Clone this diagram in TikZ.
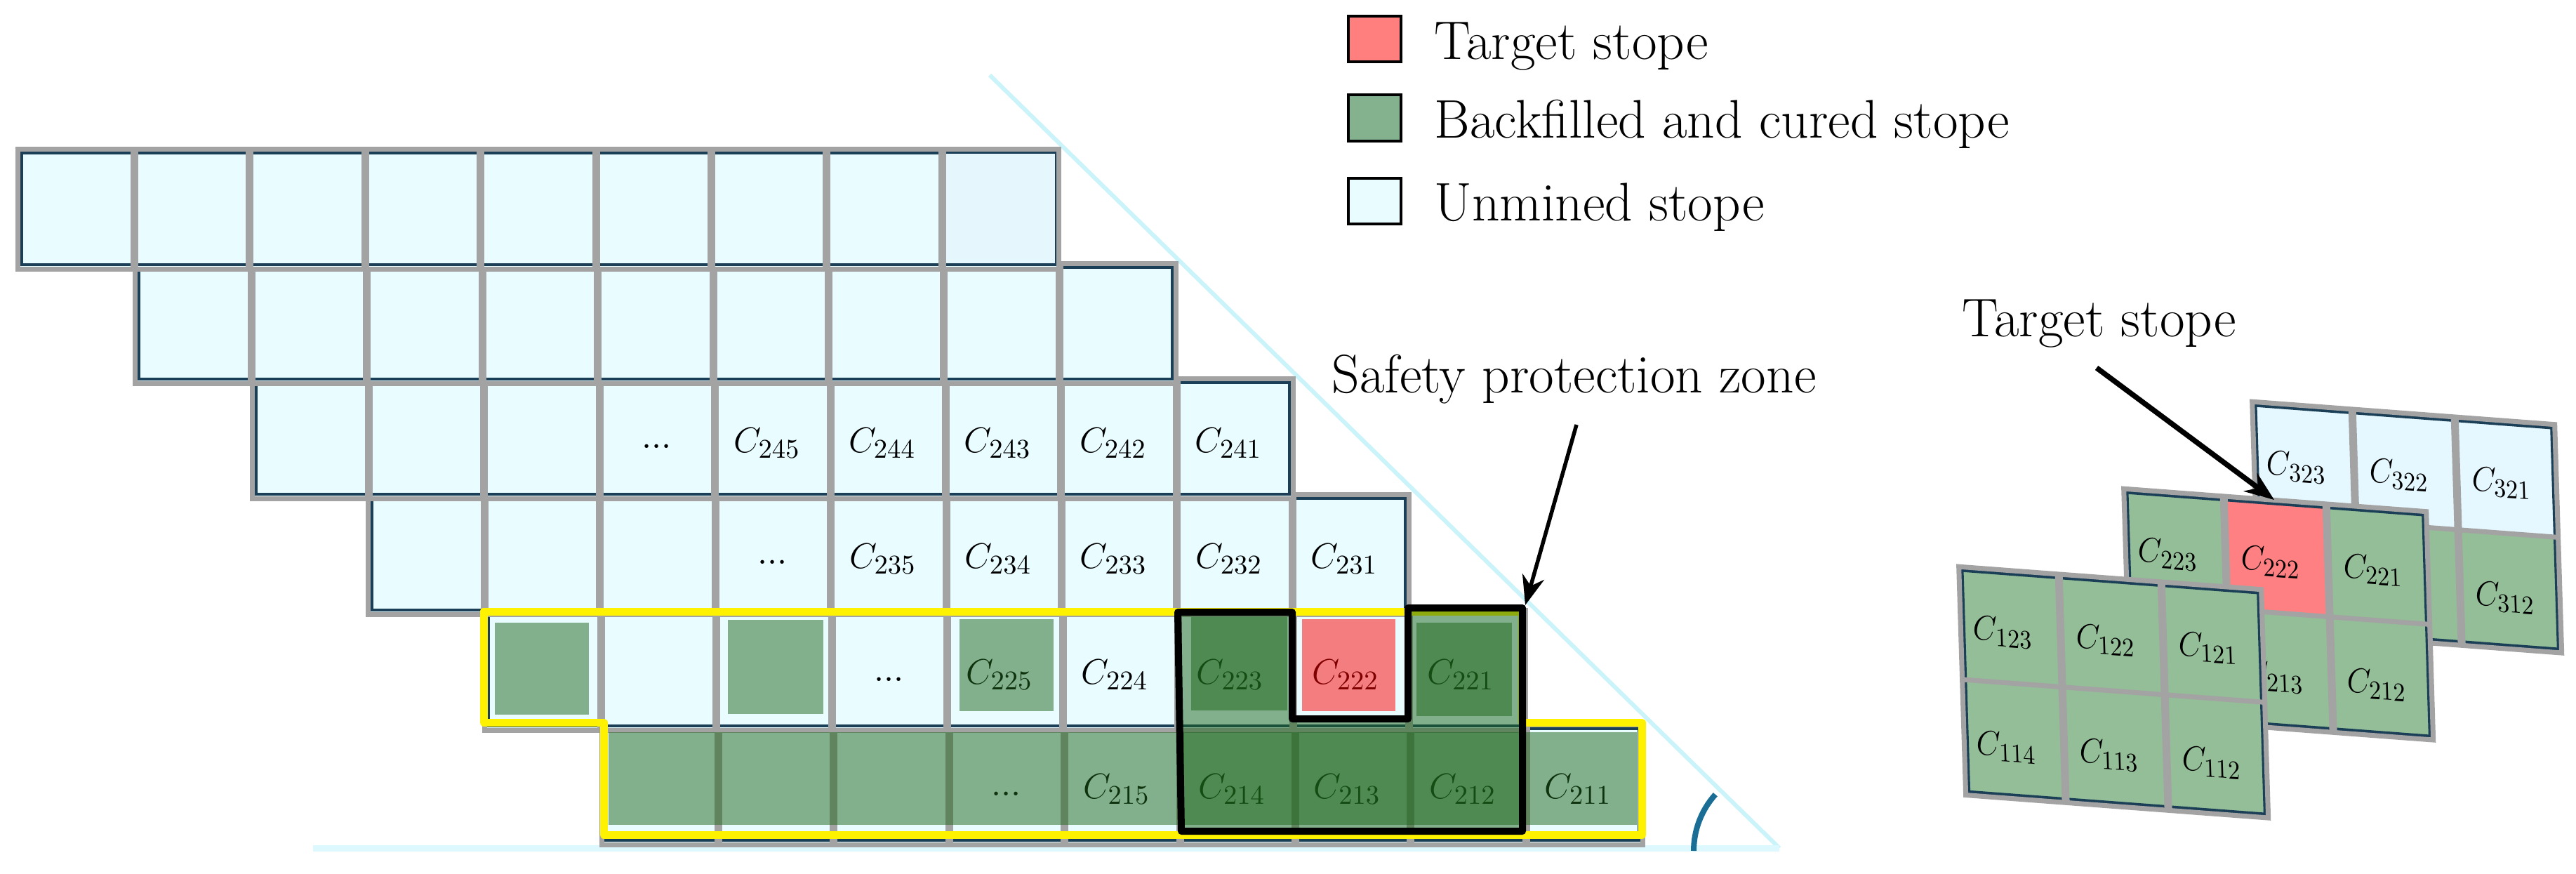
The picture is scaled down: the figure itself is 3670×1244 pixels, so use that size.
\documentclass[tikz,border=0pt]{standalone}
\usepackage{xcolor}
\usetikzlibrary{calc, arrows.meta}
\definecolor{unmined}{HTML}{E9FCFF}
\definecolor{unminedtint}{HTML}{E5F7FD}
\definecolor{unminedpanel}{HTML}{E6F8FF}
\definecolor{backfill}{HTML}{1D661B}
\definecolor{backfillpanel}{HTML}{93BE97}
\definecolor{backfilllegend}{HTML}{85B28E}
\definecolor{targetpanel}{HTML}{FF8082}
\definecolor{targetlegend}{HTML}{FE7F7E}
\definecolor{greygrid}{HTML}{A3A3A3}
\definecolor{navyedge}{HTML}{1C3F58}
\definecolor{slopeline}{HTML}{CBF3FA}
\definecolor{groundline}{HTML}{DDF9FF}
\definecolor{anglearc}{HTML}{1A6E96}
\tikzset{
	greyline/.style={draw=greygrid, line width=0.07cm},
	navyline/.style={draw=navyedge, line width=0.045cm},
	gridline/.style={draw=greygrid, line width=0.11cm},
	stopetext/.style={inner sep=0pt, font=\fontsize{15.6}{18}\selectfont},
	bigtext/.style={inner sep=0pt, anchor=base west, font=\fontsize{22}{26}\selectfont},
	legendbox/.style={draw=black, line width=0.045cm},
	thickarrow/.style={draw=black, -{Stealth[length=0.42cm,width=0.32cm]}},
	overlaygreen/.style={fill=backfill, fill opacity=0.5},
	overlayred/.style={fill=red, fill opacity=0.5},
}
\begin{document}
\begin{tikzpicture}[x=0.01cm, y=-0.01cm]
	\useasboundingbox (0,0) rectangle (3670,1244);
	%One row of nine stopes: x start, y of the bottom line
	\newcommand{\stoperow}[2]{
		\fill[unmined] (#1-1.5,#2-171) rectangle (#1+1481,#2);
		\draw[navyline] (#1+3.5,#2-165) rectangle (#1+1476,#2-6);
		\draw[greyline] (#1-1.5,#2-171) rectangle (#1+1481,#2);
		\foreach \k in {1,...,8} {
			\draw[gridline] (#1+\k*164.4,#2-171) -- (#1+\k*164.4,#2);
		}
	}
	%One label in a row: x start, y of the bottom line, cell, number
	\newcommand{\rowlabel}[4]{
		\node[stopetext] (c#4) at (#1+#3*164.4+74,#2-79) {$C_{#4}$};
	}
	%The three dots of a row: x start, y of the bottom line, name
	\newcommand{\rowdots}[3]{
		\node[stopetext] (#3) at (#1+575,#2-71) {${\cdot}{\cdot}{\cdot}$};
	}
	%The grid of a tilted panel
	\newcommand{\panelgrid}{
		\draw[navyline] (9,9) rectangle (486,331);
		\draw[greyline] (4,4) rectangle (491,336);
		\draw[gridline] (165,4) -- (165,336);
		\draw[gridline] (330,4) -- (330,336);
		\draw[greyline] (4,168) -- (491,168);
	}
	\newcommand{\panellabel}[3]{
		\node[stopetext, transform shape] (p#3) at (72+#1*165,#2) {$C_{#3}$};
	}
	%Slope and ground lines
	\coordinate (apex) at (1410,107);
	\coordinate (toe) at (2535,1208);
	\coordinate (groundstart) at (446,1208);
	\draw[slopeline, line width=0.06cm] (apex) -- (toe);
	\draw[groundline, line width=0.09cm] (toe) -- (groundstart);
	\draw[anglearc, line width=0.08cm] (2413,1212) arc[start angle=180, end angle=222, radius=120];
	%Rows of stopes, lowest first
	\stoperow{859}{1203}
	\stoperow{692}{1040}
	\stoperow{526}{875}
	\stoperow{361}{710}
	\stoperow{194}{546}
	\stoperow{27}{383}
	\fill[unminedtint] (1348,219) rectangle (1503,375);
	%Labels of the rows
	\rowdots{361}{708}{dotsfour}
	\rowlabel{361}{710}{4}{245}
	\rowlabel{361}{710}{5}{244}
	\rowlabel{361}{710}{6}{243}
	\rowlabel{361}{710}{7}{242}
	\rowlabel{361}{710}{8}{241}
	\rowdots{526}{873}{dotsthree}
	\rowlabel{526}{875}{4}{235}
	\rowlabel{526}{875}{5}{234}
	\rowlabel{526}{875}{6}{233}
	\rowlabel{526}{875}{7}{232}
	\rowlabel{526}{875}{8}{231}
	\rowdots{692}{1040}{dotstwo}
	\rowlabel{692}{1040}{4}{225}
	\rowlabel{692}{1040}{5}{224}
	\rowlabel{692}{1040}{6}{223}
	\rowlabel{692}{1040}{7}{222}
	\rowlabel{692}{1040}{8}{221}
	\rowdots{859}{1203}{dotsone}
	\rowlabel{859}{1203}{4}{215}
	\rowlabel{859}{1203}{5}{214}
	\rowlabel{859}{1203}{6}{213}
	\rowlabel{859}{1203}{7}{212}
	\rowlabel{859}{1203}{8}{211}
	%Backfilled stopes
	\fill[overlaygreen] (867,1043) rectangle (2332,1175);
	\fill[overlaygreen] (705,887) rectangle (839,1018);
	\fill[overlaygreen] (1037,883) rectangle (1173,1017);
	\fill[overlaygreen] (1367,882) rectangle (1501,1013);
	\fill[overlaygreen] (1697,879) rectangle (1834,1012);
	\fill[overlaygreen] (2018,887) rectangle (2154,1020);
	\fill[overlayred] (1855,882) rectangle (1988,1013);
	%Yellow outline of the two lowest rows
	\draw[yellow, line width=0.11cm, line join=round] (689,871) -- (2168,871) -- (2168,1029) -- (2339,1029) -- (2339,1189) -- (860,1189) -- (860,1029) -- (689,1029) -- cycle;
	%Safety protection zone
	\fill[overlaygreen] (1678,872) -- (1841,872) -- (1841,1024) -- (2006,1024) -- (2006,866) -- (2169,866) -- (2169,1184) -- (1683,1184) -- cycle;
	\draw[black, line width=0.1cm, line join=round] (1678,872) -- (1841,872) -- (1841,1024) -- (2006,1024) -- (2006,866) -- (2169,866) -- (2169,1184) -- (1683,1184) -- cycle;
	%Panel behind
	\begin{scope}[cm={0.885,-0.0667,-0.03,0.98,(3205,568)}]
		\fill[unminedpanel] (4,4) rectangle (491,168);
		\fill[backfillpanel] (4,168) rectangle (491,336);
		\panelgrid
		\panellabel{0}{95}{323}
		\panellabel{1}{95}{322}
		\panellabel{2}{95}{321}
		\panellabel{1}{262}{313}
		\panellabel{2}{262}{312}
	\end{scope}
	%Panel in the middle
	\begin{scope}[cm={0.885,-0.0667,-0.03,0.98,(3022,692)}]
		\fill[backfillpanel] (4,4) rectangle (491,336);
		\fill[targetpanel] (165,4) rectangle (330,168);
		\panelgrid
		\panellabel{0}{95}{223}
		\panellabel{1}{95}{222}
		\panellabel{2}{95}{221}
		\panellabel{1}{262}{213}
		\panellabel{2}{262}{212}
	\end{scope}
	%Panel in front
	\begin{scope}[cm={0.885,-0.0667,-0.03,0.98,(2787,803)}]
		\fill[backfillpanel] (4,4) rectangle (491,336);
		\panelgrid
		\panellabel{0}{95}{123}
		\panellabel{1}{95}{122}
		\panellabel{2}{95}{121}
		\panellabel{0}{262}{114}
		\panellabel{1}{262}{113}
		\panellabel{2}{262}{112}
	\end{scope}
	%Legend
	\draw[legendbox, fill=targetlegend] (1921,23) rectangle (1996,88);
	\draw[legendbox, fill=backfilllegend] (1921,135) rectangle (1996,201);
	\draw[legendbox, fill=unmined] (1921,254) rectangle (1996,319);
	\node[bigtext] (legendtarget) at (2043,84) {Target stope};
	\node[bigtext] (legendbackfill) at (2043,196) {Backfilled and cured stope};
	\node[bigtext] (legendunmined) at (2043,314) {Unmined stope};
	%Callouts
	\node[bigtext] (zonelabel) at (1897,559) {Safety protection zone};
	\node[bigtext] (targetlabel) at (2795,479) {Target stope};
	\coordinate (zonetail) at (2246,605);
	\coordinate (zonetip) at (2173,862);
	\coordinate (targettail) at (2987,524);
	\coordinate (targettip) at (3240,712);
	\draw[thickarrow, line width=0.055cm] (zonetail) -- (zonetip);
	\draw[thickarrow, line width=0.075cm] (targettail) -- (targettip);
\end{tikzpicture}
\end{document}
